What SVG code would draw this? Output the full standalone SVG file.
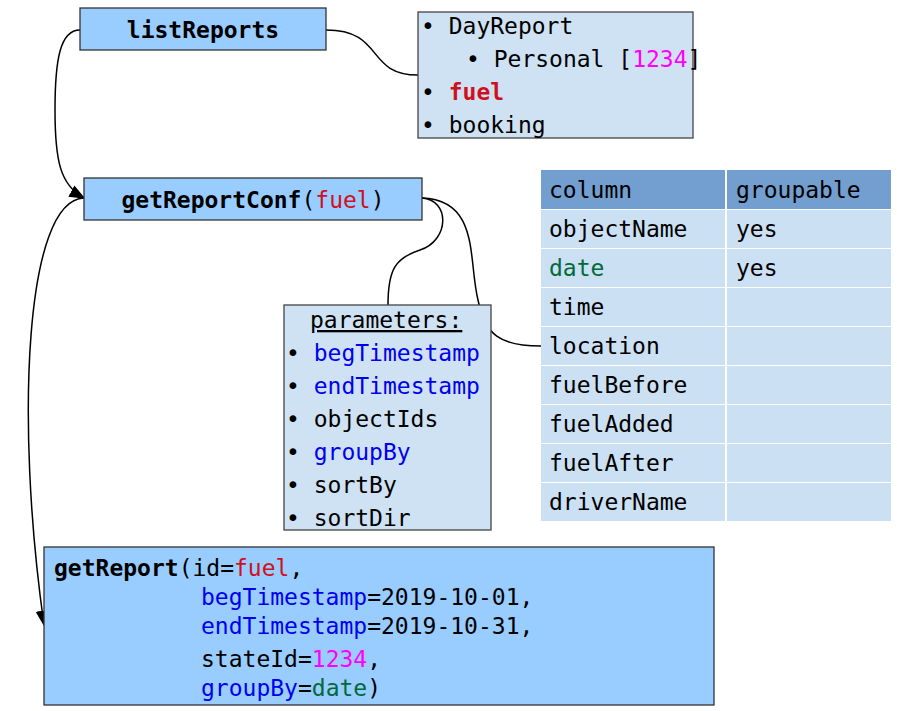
<svg xmlns="http://www.w3.org/2000/svg" width="897" height="711" viewBox="0 0 897 711">
<style>
text{font-family:"DejaVu Sans Mono","Liberation Mono",monospace;font-size:23px;fill:#000}
.b{font-weight:bold}
.box{fill:#99ccff;stroke:#333;stroke-width:1.3}
.lt{fill:#cfe2f3;stroke:#444;stroke-width:1.3}
.r{fill:#d01020}.m{fill:#ff00ff}.bl{fill:#0000ee}.g{fill:#006a3a}
.c{fill:none;stroke:#000;stroke-width:1.5}
.row{fill:#cce0f4}.hd{fill:#729fcf}
</style>
<defs><marker id="a" viewBox="0 0 10 10" refX="9" refY="5" markerWidth="9" markerHeight="9" markerUnits="userSpaceOnUse" orient="auto"><path d="M0,0L10,5L0,10z" fill="#000"/></marker>
<marker id="A" viewBox="0 0 10 10" refX="9" refY="5" markerWidth="16" markerHeight="16" markerUnits="userSpaceOnUse" orient="auto"><path d="M0,1L10,5L0,9z" fill="#000"/></marker></defs>
<g id="connectors">
<path class="c" d="M80,30 C60,30 55,60 55,110 C55,160 60,185 84,198" marker-end="url(#A)"/>
<path class="c" d="M326,30 C385,30 365,75 418,75"/>
<path class="c" d="M84,198 C25,200 15,420 44,625" marker-end="url(#A)"/>
<path class="c" d="M422,198 C450,200 450,240 420,250 C395,258 388,270 388,305"/>
<path class="c" d="M422,198 C480,200 468,260 478,300 C485,335 500,346 541,346"/>
</g>
<g id="listReports"><rect class="box" x="80" y="8" width="246" height="42"/><text class="b" x="203" y="38" text-anchor="middle">listReports</text></g>
<g id="reportList"><rect class="lt" x="418" y="12" width="275" height="126"/>
<text x="421" y="34">• DayReport</text>
<text x="466" y="67">• Personal [<tspan class="m">1234</tspan>]</text>
<text x="421" y="100">• <tspan class="r b">fuel</tspan></text>
<text x="421" y="133">• booking</text></g>
<g id="getReportConf"><rect class="box" x="84" y="178" width="338" height="42"/><text x="253" y="208" text-anchor="middle"><tspan class="b">getReportConf</tspan>(<tspan class="r">fuel</tspan>)</text></g>
<g id="parameters"><rect class="lt" x="284" y="305" width="207" height="225"/>
<text x="310" y="328" text-decoration="underline">parameters:</text>
<text x="286" y="361">• <tspan class="bl">begTimestamp</tspan></text>
<text x="286" y="394">• <tspan class="bl">endTimestamp</tspan></text>
<text x="286" y="427">• objectIds</text>
<text x="286" y="460">• <tspan class="bl">groupBy</tspan></text>
<text x="286" y="493">• sortBy</text>
<text x="286" y="526">• sortDir</text></g>
<g id="table">
<rect class="hd" x="541" y="170" width="184" height="39"/><rect class="hd" x="727" y="170" width="164" height="39"/>
<rect class="row" x="541" y="210" width="184" height="38"/><rect class="row" x="727" y="210" width="164" height="38"/>
<rect class="row" x="541" y="249" width="184" height="38"/><rect class="row" x="727" y="249" width="164" height="38"/>
<rect class="row" x="541" y="288" width="184" height="38"/><rect class="row" x="727" y="288" width="164" height="38"/>
<rect class="row" x="541" y="327" width="184" height="38"/><rect class="row" x="727" y="327" width="164" height="38"/>
<rect class="row" x="541" y="366" width="184" height="38"/><rect class="row" x="727" y="366" width="164" height="38"/>
<rect class="row" x="541" y="405" width="184" height="38"/><rect class="row" x="727" y="405" width="164" height="38"/>
<rect class="row" x="541" y="444" width="184" height="38"/><rect class="row" x="727" y="444" width="164" height="38"/>
<rect class="row" x="541" y="483" width="184" height="38"/><rect class="row" x="727" y="483" width="164" height="38"/>
<text x="549" y="198">column</text><text x="736" y="198">groupable</text>
<text x="549" y="237">objectName</text><text x="736" y="237">yes</text>
<text x="549" y="276" class="g">date</text><text x="736" y="276">yes</text>
<text x="549" y="315">time</text>
<text x="549" y="354">location</text>
<text x="549" y="393">fuelBefore</text>
<text x="549" y="432">fuelAdded</text>
<text x="549" y="471">fuelAfter</text>
<text x="549" y="510">driverName</text></g>
<g id="getReport"><rect class="box" x="44" y="547" width="670" height="158"/>
<text x="54" y="576"><tspan class="b">getReport</tspan>(id=<tspan class="r">fuel</tspan>,</text>
<text x="201" y="605"><tspan class="bl">begTimestamp</tspan>=2019-10-01,</text>
<text x="201" y="634"><tspan class="bl">endTimestamp</tspan>=2019-10-31,</text>
<text x="201" y="667">stateId=<tspan class="m">1234</tspan>,</text>
<text x="201" y="696"><tspan class="bl">groupBy</tspan>=<tspan class="g">date</tspan>)</text></g>
</svg>
